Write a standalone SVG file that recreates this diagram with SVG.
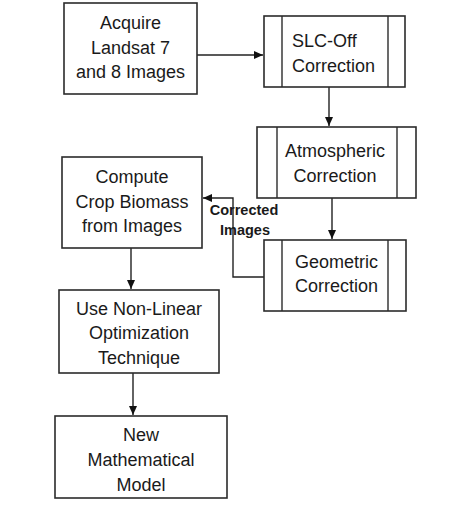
<svg xmlns="http://www.w3.org/2000/svg" width="474" height="509" viewBox="0 0 474 509">
<defs>
<style>
.box{fill:#fff;stroke:#2b2b2b;stroke-width:1.6}
.sub{fill:none;stroke:#2b2b2b;stroke-width:1.4}
.t{font-family:"Liberation Sans",Arial,sans-serif;font-size:18px;fill:#1a1a1a;text-anchor:middle}
.tl{font-family:"Liberation Sans",Arial,sans-serif;font-size:18px;fill:#1a1a1a}
.lbl{font-family:"Liberation Sans",Arial,sans-serif;font-size:14.5px;font-weight:bold;fill:#1a1a1a;text-anchor:middle}
.c{fill:none;stroke:#222;stroke-width:1.4}
</style>
<marker id="ah" markerWidth="10" markerHeight="10" refX="9" refY="5" orient="auto" markerUnits="userSpaceOnUse">
<path d="M0,1 L9,5 L0,9 Z" fill="#111"/>
</marker>
</defs>
<rect width="474" height="509" fill="#fff"/>
<g id="connectors">
<line class="c" x1="197" y1="55" x2="263" y2="55" marker-end="url(#ah)"/>
<line class="c" x1="329" y1="87" x2="329" y2="126" marker-end="url(#ah)"/>
<line class="c" x1="332" y1="198" x2="332" y2="239" marker-end="url(#ah)"/>
<polyline class="c" points="264,277 233,277 233,198 203,198" marker-end="url(#ah)"/>
<line class="c" x1="131" y1="248" x2="131" y2="289" marker-end="url(#ah)"/>
<line class="c" x1="133" y1="373" x2="133" y2="415" marker-end="url(#ah)"/>
<text class="lbl" x="244" y="215">Corrected</text>
<text class="lbl" x="245" y="235">Images</text>
</g>
<g id="acquire">
<rect class="box" x="64" y="3" width="133" height="91"/>
<text class="t" x="130.5" y="29">Acquire</text>
<text class="t" x="130.5" y="54">Landsat 7</text>
<text class="t" x="130.5" y="78">and 8 Images</text>
</g>
<g id="slc">
<rect class="box" x="264" y="16" width="141" height="71"/>
<line class="sub" x1="282" y1="16" x2="282" y2="87"/>
<line class="sub" x1="388" y1="16" x2="388" y2="87"/>
<text class="tl" x="292" y="47">SLC-Off</text>
<text class="tl" x="292" y="72">Correction</text>
</g>
<g id="atmospheric">
<rect class="box" x="257" y="127" width="159" height="71"/>
<line class="sub" x1="277" y1="127" x2="277" y2="198"/>
<line class="sub" x1="397" y1="127" x2="397" y2="198"/>
<text class="t" x="335" y="157">Atmospheric</text>
<text class="t" x="335" y="182">Correction</text>
</g>
<g id="geometric">
<rect class="box" x="264" y="240" width="142" height="71"/>
<line class="sub" x1="282" y1="240" x2="282" y2="311"/>
<line class="sub" x1="388" y1="240" x2="388" y2="311"/>
<text class="tl" x="295" y="268">Geometric</text>
<text class="tl" x="295" y="292">Correction</text>
</g>
<g id="compute">
<rect class="box" x="62" y="157" width="140" height="91"/>
<text class="t" x="132" y="183">Compute</text>
<text class="t" x="132" y="208">Crop Biomass</text>
<text class="t" x="132" y="232">from Images</text>
</g>
<g id="optimize">
<rect class="box" x="59" y="290" width="160" height="83"/>
<text class="t" x="139" y="315">Use Non-Linear</text>
<text class="t" x="139" y="339">Optimization</text>
<text class="t" x="139" y="364">Technique</text>
</g>
<g id="model">
<rect class="box" x="55" y="416" width="172" height="82"/>
<text class="t" x="141" y="441">New</text>
<text class="t" x="141" y="466">Mathematical</text>
<text class="t" x="141" y="491">Model</text>
</g>
</svg>
